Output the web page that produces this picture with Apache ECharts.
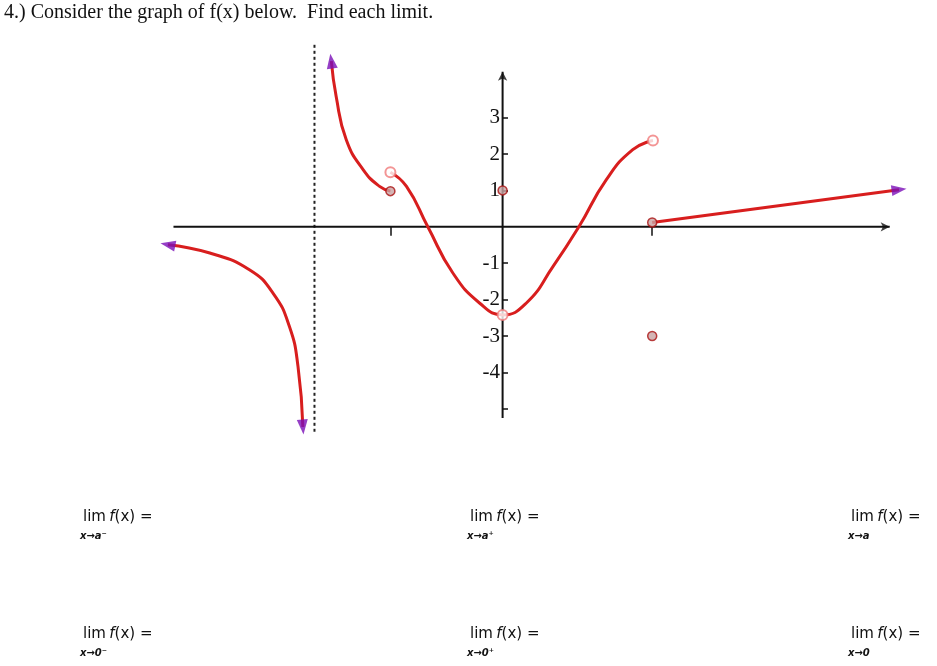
<!DOCTYPE html>
<html><head><meta charset="utf-8">
<script src="https://cdn.jsdelivr.net/npm/echarts@6/dist/echarts.min.js"></script>
<style>html,body{margin:0;padding:0;background:#fff}#c{width:937px;height:666px}</style>
</head><body><div id="c"></div>
<script>
// ---- data (x in units of the graph, y in graph units) ----
const titleText = '4.) Consider the graph of f(x) below.  Find each limit.';
const yTickValues = [3, 2, 1, -1, -2, -3, -4, -5];
const yTickLabels = ['3', '2', '1', '-1', '-2', '-3', '-4', ''];
const xMarkValues = [-5.03, -3, 4];
const xMarkLabels = ['a', 'b', 'c'];
const branchLeft = [[-8.95,-0.49],[-7.83,-0.72],[-6.77,-1.18],[-6.14,-1.82],[-5.70,-2.74],[-5.47,-3.84],[-5.34,-5.5]];
const branchMid = [[-4.58,4.55],[-4.45,3.58],[-4.18,2.39],[-3.73,1.57],[-3.29,1.11],[-3,0.98]];
const branchWave = [[-3,1.5],[-2.57,1.11],[-2.0,0],[-1.33,-1.27],[-0.61,-2.10],[0,-2.42],[0.63,-2.1],[1.35,-1.09],[2.04,0],[2.77,1.29],[3.48,2.12],[4.02,2.37]];
const branchRight = [[4,0.12],[10.6,1.02]];
const closedDots = [[-3,0.98],[0,1],[4,-3],[4,0.12]];
const openDots = [[-3,1.5],[0,-2.42],[4.02,2.37]];
const asymptoteA = [[-5.03,5.0],[-5.03,-5.63]];
const xAxisLine = [[-8.8,0],[10.35,0]];
const yAxisLine = [[0,-5.25],[0,4.26]];
const limitRows = [
  ['a⁻','a⁺','a'],
  ['0⁻','0⁺','0']
];

// ---- helpers ----
function arrowRot(p, q){ // direction from p to q
  const ang = Math.atan2((q[1]-p[1])*36.4, (q[0]-p[0])*37.4) * 180/Math.PI;
  return ang - 90;
}
function arrowPts(pts, both){
  const out = [];
  const n = pts.length;
  out.push({value: pts[n-1], symbolRotate: arrowRot(pts[n-2], pts[n-1])});
  if (both) out.push({value: pts[0], symbolRotate: arrowRot(pts[1], pts[0])});
  return out;
}
const RED = '#d81e1e', PURPLE = '#7a0fb8';
function curve(d){
  return {type:'line', data:d, smooth:0.5, symbol:'none', clip:false, z:3,
    lineStyle:{color:RED, width:3}};
}

const chart = echarts.init(document.getElementById('c'));
const graphics = [{type:'text', left:4, top:3, style:{text:titleText, font:'20px "Liberation Serif", serif', fill:'#111'}}];
const colX = [83, 470, 851], rowY = [510, 627];
limitRows.forEach((row, r) => row.forEach((sub, c) => {
  graphics.push({type:'text', x:colX[c], y:rowY[r], style:{
    text:'{l|lim} {f|f}{l|(x) =}', rich:{l:{font:'15px "DejaVu Sans", sans-serif', fill:'#111'}, f:{font:'italic 15px "DejaVu Sans", sans-serif', fill:'#111'}}}});
  graphics.push({type:'text', x:colX[c]-3, y:rowY[r]+21, style:{
    text:'{i|x}{n|→}{i|'+sub+'}', rich:{i:{font:'italic bold 10px "DejaVu Sans", sans-serif', fill:'#111'}, n:{font:'bold 10px "DejaVu Sans", sans-serif', fill:'#111'}}}});
}));

chart.setOption({
  animation:false,
  grid:{left:166, right:23, top:63, bottom:239},
  xAxis:{type:'value', min:-9, max:11, axisLine:{show:false}, splitLine:{show:false},
    axisTick:{show:true, customValues:[-3,4], length:9, inside:false, lineStyle:{color:'#111', width:1.5}},
    axisLabel:{show:false}},
  yAxis:{type:'value', min:-5.5, max:4.5, position:'left', offset:-337,
    axisLine:{show:false}, splitLine:{show:false},
    axisTick:{show:true, customValues:yTickValues, length:5, inside:true, lineStyle:{color:'#111', width:1.5}},
    axisLabel:{customValues:yTickValues, margin:3, formatter:v => yTickLabels[yTickValues.indexOf(v)] || '',
      font:'21px "Liberation Serif", serif', fontSize:21, fontFamily:'"Liberation Serif", serif', color:'#111'}},
  graphic:graphics,
  series:[
    {type:'line', data:asymptoteA, symbol:'none', clip:false, lineStyle:{color:'#222', width:2, type:[3,3]}},
    {type:'line', data:xAxisLine, symbol:'none', clip:false, lineStyle:{color:'#111', width:2}},
    {type:'line', data:yAxisLine, symbol:'none', clip:false, lineStyle:{color:'#111', width:2}},
    {type:'scatter', data:arrowPts(xAxisLine), symbol:'arrow', symbolSize:[7,9], itemStyle:{color:'#111'}, clip:false},
    {type:'scatter', data:arrowPts(yAxisLine), symbol:'arrow', symbolSize:[7,9], itemStyle:{color:'#111'}, clip:false},
    {type:'scatter', data:[[10.35,0.45],[0.3,4.1]], symbol:'none', clip:false,
      label:{show:true, formatter:p => p.dataIndex===0?'x':'y', font:'bold italic 11px "Liberation Serif", serif', color:'#111'}},
    {type:'scatter', data:xMarkValues.map((v,i)=>({value:[i===0?v-0.55:v, i===0?-0.65:-0.95], name:xMarkLabels[i]})),
      symbol:'none', clip:false,
      label:{show:true, formatter:p => p.name, font:'bold italic 13px "Liberation Serif", serif', color:'#111'}},
    curve(branchLeft), curve(branchMid), curve(branchWave),
    {type:'line', data:branchRight, symbol:'none', clip:false, z:3, lineStyle:{color:RED, width:3}},
    {type:'scatter', data:[].concat(arrowPts(branchLeft,true), arrowPts(branchMid.slice().reverse()), arrowPts(branchRight)),
      symbol:'triangle', symbolSize:[11,15], clip:false, z:5, itemStyle:{color:PURPLE}},
    {type:'scatter', data:closedDots, symbolSize:9, clip:false, z:6, itemStyle:{color:'#c9a3a3', borderColor:'#a11', borderWidth:1.5}},
    {type:'scatter', data:openDots, symbolSize:10, clip:false, z:6, itemStyle:{color:'#fff', borderColor:'#f07a7a', borderWidth:2}}
  ]
});
</script></body></html>
